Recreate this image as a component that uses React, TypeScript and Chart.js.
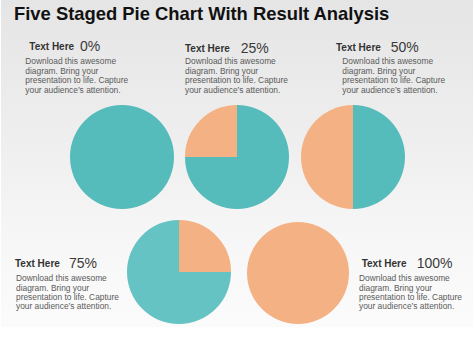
import React, { useEffect, useRef } from "react";
import { Chart, registerables } from "chart.js";

Chart.register(...registerables);

const titleText = "Five Staged Pie Chart With Result Analysis";
const stageHeading = "Text Here";
const stagePercents = ["0%", "25%", "50%", "75%", "100%"];
const bodyLines = [
  "Download this awesome",
  "diagram. Bring your",
  "presentation to life. Capture",
  "your audience\u2019s attention.",
];
const sliceNames = ["Remaining", "Result"];
const tealValues = [100, 75, 50, 75, 0];
const orangeValues = [0, 25, 50, 25, 100];
const pieRotations = [0, 0, 0, 90, 0];
const tealColors = ["#55BBBB", "#55BBBB", "#55BBBB", "#66C3C3", "#55BBBB"];
const orangeColor = "#F4B183";

// layout (px)
const pieLayout = [
  { cx: 121.5, cy: 156.5, r: 52 },
  { cx: 236.7, cy: 156.5, r: 52 },
  { cx: 352.5, cy: 156.5, r: 52 },
  { cx: 179.3, cy: 271.8, r: 52 },
  { cx: 297.8, cy: 272.5, r: 51 },
];
const labelLayout = [
  { hx: 29.3, px: 80, base: 50.5, bx: 25.3, bb: 65 },
  { hx: 185, px: 240.7, base: 52.5, bx: 185, bb: 65 },
  { hx: 336, px: 390.7, base: 51.7, bx: 342.3, bb: 65 },
  { hx: 15, px: 69, base: 267.7, bx: 16, bb: 281.7 },
  { hx: 361.7, px: 416.7, base: 267.7, bx: 359, bb: 281.7 },
];

const FONT = "'Liberation Sans', Arial, sans-serif";

function topFor(baseline: number, fs: number) {
  return baseline - 0.8465 * fs;
}

function Pie({ i }: { i: number }) {
  const ref = useRef<HTMLCanvasElement>(null);
  useEffect(() => {
    if (!ref.current) return;
    const chart = new Chart(ref.current, {
      type: "pie",
      data: {
        labels: sliceNames,
        datasets: [
          {
            data: [tealValues[i], orangeValues[i]],
            backgroundColor: [tealColors[i], orangeColor],
            borderWidth: 0,
          },
        ],
      },
      options: {
        animation: false,
        responsive: false,
        rotation: pieRotations[i],
        events: [],
        layout: { padding: 0 },
        plugins: { legend: { display: false }, tooltip: { enabled: false } },
      },
    });
    return () => chart.destroy();
  }, [i]);
  const p = pieLayout[i];
  return (
    <div
      style={{
        position: "absolute",
        left: p.cx - p.r,
        top: p.cy - p.r,
        width: p.r * 2,
        height: p.r * 2,
      }}
    >
      <canvas ref={ref} width={p.r * 2} height={p.r * 2} style={{ display: "block" }} />
    </div>
  );
}

function Label({ i }: { i: number }) {
  const l = labelLayout[i];
  const hfs = 10;
  const pfs = 14;
  const bfs = 8.4;
  const blh = 9.45;
  return (
    <>
      <div
        style={{
          position: "absolute",
          left: l.hx,
          top: topFor(l.base, hfs),
          fontFamily: FONT,
          fontWeight: "bold",
          fontSize: hfs,
          lineHeight: `${hfs}px`,
          color: "#333333",
          whiteSpace: "nowrap",
        }}
      >
        {stageHeading}
      </div>
      <div
        style={{
          position: "absolute",
          left: l.px,
          top: topFor(l.base, pfs),
          fontFamily: FONT,
          fontSize: pfs,
          lineHeight: `${pfs}px`,
          color: "#3a3a3a",
          whiteSpace: "nowrap",
        }}
      >
        {stagePercents[i]}
      </div>
      <div
        style={{
          position: "absolute",
          left: l.bx,
          top: l.bb - ((blh - 1.117 * bfs) / 2 + 0.905 * bfs),
          fontFamily: FONT,
          fontSize: bfs,
          lineHeight: `${blh}px`,
          color: "#5a5a5a",
          whiteSpace: "nowrap",
        }}
      >
        {bodyLines.map((t, k) => (
          <div key={k}>{t}</div>
        ))}
      </div>
    </>
  );
}

export default function App() {
  return (
    <div
      style={{
        position: "absolute",
        left: 0,
        top: 0,
        width: 474,
        height: 355,
        background: "#ffffff",
        overflow: "hidden",
      }}
    >
      <div
        style={{
          position: "absolute",
          left: 1,
          top: 0,
          width: 472,
          height: 327,
          background: "linear-gradient(to bottom, #e5e5e5 0%, #efefef 45%, #f7f7f7 75%, #fbfbfb 100%)",
        }}
      />
      <div
        style={{
          position: "absolute",
          left: 14,
          top: topFor(20.3, 18.4),
          fontFamily: FONT,
          fontWeight: "bold",
          fontSize: 18.4,
          lineHeight: "18.4px",
          color: "#111111",
          whiteSpace: "nowrap",
        }}
      >
        {titleText}
      </div>
      {stagePercents.map((_, i) => (
        <Label key={"l" + i} i={i} />
      ))}
      {stagePercents.map((_, i) => (
        <Pie key={"p" + i} i={i} />
      ))}
    </div>
  );
}
